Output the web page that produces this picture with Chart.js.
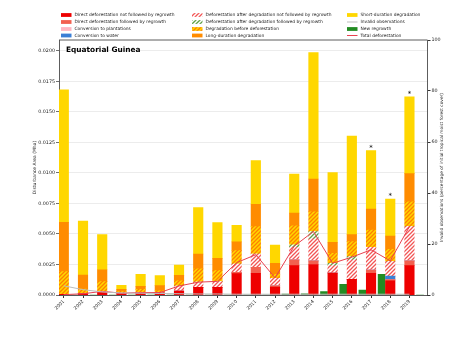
<!DOCTYPE html>
<html>
<head>
<meta charset="utf-8">
<script src="https://cdn.jsdelivr.net/npm/chart.js@4/dist/chart.umd.min.js"></script>
<style>
    html, body { margin: 0; padding: 0; background: #ffffff; }
</style>
</head>
<body>
<canvas id="chart" width="474" height="338"></canvas>
<script>
/* ==========================================
   Disturbance area by year - Equatorial Guinea
   ========================================== */

const years = [2001, 2002, 2003, 2004, 2005, 2006, 2007, 2008, 2009, 2010,
               2011, 2012, 2013, 2014, 2015, 2016, 2017, 2018, 2019];

// stacked components (Mha)
const directNoRegrowth = [0.00005, 0.0001, 0.0002, 0.0001, 0.00012, 0.00015, 0.00033, 0.00063, 0.00063, 0.00175,
                          0.00178, 0.00065, 0.0024, 0.0025, 0.0018, 0.00128, 0.00178, 0.00117, 0.0024];
const directRegrowth = [0, 0, 0, 0, 0, 0, 0, 0, 0, 0.0001,
                        0.00049, 0.0001, 0.00047, 0.0003, 0, 0, 0.00027, 0.0001, 0.0004];
const plantations = [0, 0, 0, 0, 0, 0, 0, 0, 0, 0,
                     0, 0, 0, 0, 0, 0, 0, 0, 0];
const water = [0, 0, 0, 0, 0, 0, 0, 0, 0, 0,
               0, 0, 0, 0, 0, 0, 0, 0.00028, 0];
const degNoRegrowth = [0, 0, 0.0001, 0.00005, 0.00008, 0.00005, 0.00041, 0.00043, 0.00046, 0.00069,
                       0.00109, 0.00062, 0.00103, 0.0018, 0.0006, 0.00159, 0.00185, 0.00118, 0.0028];
const degRegrowth = [0, 0, 0, 0, 0, 0, 0, 0, 0, 0,
                     0, 0, 0.0002, 0.0006, 0.0002, 0.00027, 0, 0, 0];
const degBeforeDef = [0.00186, 0.00039, 0.00079, 0.00012, 0.00026, 0.00015, 0.00043, 0.00108, 0.0009, 0.00109,
                      0.00224, 0.00032, 0.00156, 0.00162, 0.00081, 0.00123, 0.00142, 0.00101, 0.00202];
const longDeg = [0.00404, 0.00115, 0.00098, 0.00019, 0.00025, 0.00042, 0.00044, 0.00122, 0.00101, 0.00072,
                 0.00183, 0.00091, 0.00105, 0.00268, 0.00091, 0.00057, 0.00171, 0.00109, 0.00232];
const shortDeg = [0.01084, 0.00442, 0.00287, 0.00033, 0.00098, 0.00081, 0.00085, 0.0038, 0.00292, 0.00135,
                  0.00357, 0.00148, 0.0032, 0.01035, 0.0057, 0.00808, 0.00479, 0.00302, 0.00629];

// separate bars, drawn between years
const newRegrowth = [0, 0, 0, 0, 0, 0, 0, 0, 0, 0,
                     0, 0.00008, 0.0001, 0.00027, 0.00088, 0.0004, 0.0017, 0, 0];

// lines
const totalDef = [0.00003, 0.0001, 0.0003, 0.00015, 0.0002, 0.0002, 0.00074, 0.00105, 0.00112, 0.00265,
                  0.0033, 0.0014, 0.004, 0.0052, 0.0026, 0.0031, 0.0037, 0.0028, 0.0056];
const invalidObs = [3.6, 2.1, 1.2, 0.8, 0.7, 0.6, 0.5, 0.4, 0.4, 0.3,
                    0.3, 0.3, 0.3, 0.3, 0.3, 0.3, 0.3, 0.3, 0.3];

const starredYears = [2017, 2018, 2019];

const leftTicks = [0, 0.0025, 0.005, 0.0075, 0.01, 0.0125, 0.015, 0.0175, 0.02];
const rightTicks = [0, 20, 40, 60, 80, 100];

const FONT = "DejaVu Sans";

function hatch(bg, fg) {
    const c = document.createElement("canvas");
    c.width = 4;
    c.height = 4;
    const g = c.getContext("2d");
    g.fillStyle = bg;
    g.fillRect(0, 0, 4, 4);
    g.strokeStyle = fg;
    g.lineWidth = 1.3;
    g.beginPath();
    g.moveTo(0, 4); g.lineTo(4, 0);
    g.moveTo(-1, 1); g.lineTo(1, -1);
    g.moveTo(3, 5); g.lineTo(5, 3);
    g.stroke();
    return g.createPattern(c, "repeat");
}

const colors = {
    red: "#ee0000",
    salmon: "#f2604f",
    pink: "#ffb6c1",
    blue: "#3a7fd5",
    hatchRed: hatch("#ffffff", "#f25555"),
    hatchGreen: hatch("#ffffff", "#5fa044"),
    hatchOrange: hatch("#ffd700", "#ff8000"),
    orange: "#ff8c00",
    gold: "#ffd700",
    green: "#228b22",
    gray: "#bdbdbd",
    line: "#e8404f"
};

const toXY = (vals, shift) => years.map((yr, i) => ({ x: yr + (shift || 0), y: vals[i] }));

function barSet(label, vals, color) {
    return {
        type: "bar",
        label,
        data: toXY(vals),
        backgroundColor: color,
        borderWidth: 0,
        grouped: false,
        barThickness: 9.5,
        yAxisID: "y",
        order: 2
    };
}

const datasets = [
    barSet("Direct deforestation not followed by regrowth", directNoRegrowth, colors.red),
    barSet("Direct deforestation followed by regrowth", directRegrowth, colors.salmon),
    barSet("Conversion to plantations", plantations, colors.pink),
    barSet("Conversion to water", water, colors.blue),
    barSet("Deforestation after degradation not followed by regrowth", degNoRegrowth, colors.hatchRed),
    barSet("Deforestation after degradation followed by regrowth", degRegrowth, colors.hatchGreen),
    barSet("Degradation before deforestation", degBeforeDef, colors.hatchOrange),
    barSet("Long-duration degradation", longDeg, colors.orange),
    barSet("Short-duration degradation", shortDeg, colors.gold),
    {
        type: "bar",
        label: "New regrowth",
        data: toXY(newRegrowth, 0.55),
        backgroundColor: colors.green,
        borderWidth: 0,
        grouped: false,
        barThickness: 7,
        stack: "regrowth",
        yAxisID: "y",
        order: 2
    },
    {
        type: "line",
        label: "Invalid observations",
        data: toXY(invalidObs),
        borderColor: colors.gray,
        borderWidth: 1,
        pointRadius: 0,
        yAxisID: "y2",
        order: 0
    },
    {
        type: "line",
        label: "Total deforestation",
        data: toXY(totalDef),
        borderColor: colors.line,
        borderWidth: 1,
        pointRadius: 0,
        yAxisID: "y",
        order: 0
    }
];

// legend in three columns, as in the original figure
const legendCols = [
    [
        { label: datasets[0].label, fill: colors.red },
        { label: datasets[1].label, fill: colors.salmon },
        { label: datasets[2].label, fill: colors.pink },
        { label: datasets[3].label, fill: colors.blue }
    ],
    [
        { label: datasets[4].label, fill: colors.hatchRed },
        { label: datasets[5].label, fill: colors.hatchGreen },
        { label: datasets[6].label, fill: colors.hatchOrange },
        { label: datasets[7].label, fill: colors.orange }
    ],
    [
        { label: datasets[8].label, fill: colors.gold },
        { label: "Invalid observations", stroke: colors.gray },
        { label: "New regrowth", fill: colors.green },
        { label: "Total deforestation", stroke: colors.line }
    ]
];

const decorations = {
    id: "decorations",
    afterDraw(chart) {
        const { ctx, chartArea } = chart;

        // top spine
        ctx.save();
        ctx.strokeStyle = "#333";
        ctx.lineWidth = 0.8;
        ctx.beginPath();
        ctx.moveTo(chartArea.left, chartArea.top);
        ctx.lineTo(chartArea.right, chartArea.top);
        ctx.stroke();

        // country title
        ctx.fillStyle = "#000";
        ctx.font = "bold 7.4px '" + FONT + "'";
        ctx.textAlign = "left";
        ctx.textBaseline = "middle";
        ctx.fillText("Equatorial Guinea", 66, 50.5);

        // stars above flagged years
        const topMeta = chart.getDatasetMeta(8);
        ctx.font = "7px '" + FONT + "'";
        ctx.textAlign = "center";
        starredYears.forEach(yr => {
            const bar = topMeta.data[years.indexOf(yr)];
            ctx.fillText("*", bar.x, bar.y - 2.5);
        });

        // axis titles
        ctx.fillStyle = "#222";
        ctx.font = "4.5px '" + FONT + "'";
        const midY = (chartArea.top + chartArea.bottom) / 2;
        ctx.translate(35, midY);
        ctx.rotate(-Math.PI / 2);
        ctx.fillText("Disturbance Area (Mha)", 0, 0);
        ctx.setTransform(1, 0, 0, 1, 0, 0);
        ctx.translate(442, midY);
        ctx.rotate(-Math.PI / 2);
        ctx.font = "4.3px '" + FONT + "'";
        ctx.fillText("Invalid observations (percentage of initial tropical moist forest cover)", 0, 0);
        ctx.setTransform(1, 0, 0, 1, 0, 0);

        // legend
        const colX = [61, 192, 347];
        const rowY = [15, 22, 29, 35.5];
        ctx.font = "4.4px '" + FONT + "'";
        ctx.textAlign = "left";
        ctx.textBaseline = "middle";
        legendCols.forEach((col, c) => {
            col.forEach((item, r) => {
                const x = colX[c];
                const y = rowY[r];
                if (item.fill) {
                    ctx.fillStyle = item.fill;
                    ctx.fillRect(x, y - 1.9, 10.5, 3.8);
                } else {
                    ctx.strokeStyle = item.stroke;
                    ctx.lineWidth = 1;
                    ctx.beginPath();
                    ctx.moveTo(x, y);
                    ctx.lineTo(x + 10.5, y);
                    ctx.stroke();
                }
                ctx.fillStyle = "#222";
                ctx.fillText(item.label, x + 13.5, y + 0.3);
            });
        });
        ctx.restore();
    }
};

new Chart(document.getElementById("chart"), {
    data: { datasets },
    plugins: [decorations],
    options: {
        responsive: false,
        animation: false,
        layout: { padding: { top: 40, left: 0, right: 0, bottom: 0 } },
        plugins: {
            legend: { display: false },
            tooltip: { enabled: false }
        },
        scales: {
            x: {
                type: "linear",
                min: 2000.75,
                max: 2019.94,
                offset: false,
                afterBuildTicks: scale => {
                    scale.ticks = years.map(v => ({ value: v }));
                },
                afterFit: scale => { scale.height = 43; },
                ticks: {
                    autoSkip: false,
                    maxRotation: 45,
                    minRotation: 45,
                    padding: 1,
                    color: "#222",
                    font: { family: FONT, size: 4.6 },
                    callback: value => String(value)
                },
                grid: {
                    offset: false,
                    drawOnChartArea: false,
                    tickLength: 3,
                    tickColor: "#333",
                    color: "#333"
                },
                border: { color: "#333", width: 0.8 }
            },
            y: {
                position: "left",
                stacked: true,
                min: 0,
                max: 0.02088,
                afterBuildTicks: scale => {
                    scale.ticks = leftTicks.map(v => ({ value: v }));
                },
                afterFit: scale => { scale.width = 59; },
                ticks: {
                    padding: 1,
                    color: "#222",
                    font: { family: FONT, size: 4.8 },
                    callback: value => value.toFixed(4)
                },
                grid: {
                    color: "#e4e4e4",
                    lineWidth: 0.7,
                    tickLength: 3,
                    tickColor: "#333"
                },
                border: { color: "#333", width: 0.8 }
            },
            y2: {
                position: "right",
                min: 0,
                max: 100,
                afterBuildTicks: scale => {
                    scale.ticks = rightTicks.map(v => ({ value: v }));
                },
                afterFit: scale => { scale.width = 46.5; },
                ticks: {
                    padding: 1,
                    color: "#222",
                    font: { family: FONT, size: 4.8 }
                },
                grid: {
                    drawOnChartArea: false,
                    tickLength: 3,
                    tickColor: "#333"
                },
                border: { color: "#333", width: 0.8 }
            }
        }
    }
});
</script>
</body>
</html>
